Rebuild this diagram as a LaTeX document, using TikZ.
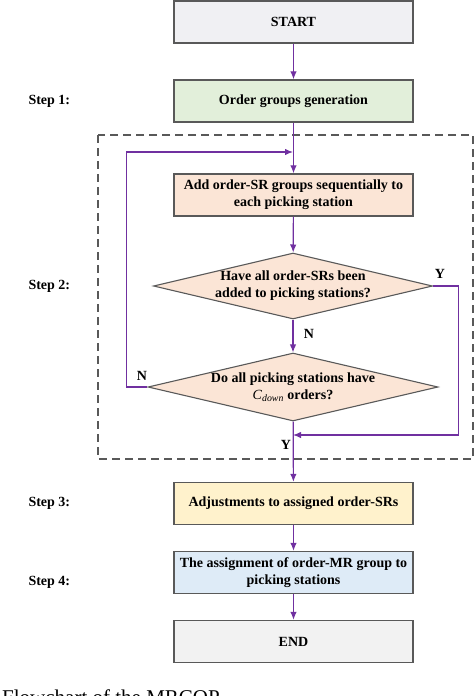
\documentclass[tikz,border=0pt]{standalone}
\usepackage{fontspec}
\setmainfont{Liberation Serif}
\usetikzlibrary{positioning,shapes.geometric,arrows.meta}

\definecolor{edgegray}{RGB}{89,89,89}
\definecolor{flowpurple}{RGB}{112,48,160}
\definecolor{startfill}{RGB}{240,240,243}
\definecolor{groupfill}{RGB}{226,239,218}
\definecolor{peachfill}{RGB}{251,229,214}
\definecolor{adjustfill}{RGB}{255,242,204}
\definecolor{assignfill}{RGB}{222,235,247}
\definecolor{endfill}{RGB}{242,242,242}

\tikzset{
	procbox/.style={rectangle, draw=edgegray, line width=1.3pt, minimum width=239pt, minimum height=42pt, align=center, inner sep=2pt, font=\fontsize{14}{17}\selectfont\bfseries},
	decision/.style={diamond, draw=edgegray, line width=1.1pt, fill=peachfill, inner sep=-4pt, align=center, font=\fontsize{14}{17}\selectfont\bfseries},
	flow/.style={draw=flowpurple, line width=1.2pt, -{Latex[length=8pt,width=6.5pt]}},
	steplabel/.style={anchor=west, font=\fontsize{14}{17}\selectfont\bfseries},
	yn/.style={font=\fontsize{14}{17}\selectfont\bfseries, inner sep=1pt}
}

\begin{document}
\begin{tikzpicture}[x=1pt,y=-1pt]
			\useasboundingbox (0,0) rectangle (474,696);
			% frame round step 2
			\draw[edgegray, line width=1.4pt, dash pattern=on 8pt off 5pt] (98,135) rectangle (473,459);
			% flow boxes
			\node[procbox, fill=startfill] (start) at (293.5,22) {START};
			\node[procbox, fill=groupfill] (groups) at (293.5,101) {Order groups generation};
			\node[procbox, fill=peachfill] (add) at (293.5,195) {Add order-SR groups sequentially to\\each picking station};
			\node[decision, aspect=4.2, minimum width=279pt, minimum height=66pt] (alladded) at (293,286) {Have all order-SRs been\\added to picking stations?};
			\node[decision, aspect=4.26, minimum width=290pt, minimum height=68pt] (allfull) at (293,387) {Do all picking stations have\\\textit{\mdseries C}\textsubscript{\mdseries\itshape down} orders?};
			\node[procbox, fill=adjustfill] (adjust) at (293.5,503.5) {Adjustments to assigned order-SRs};
			\node[procbox, fill=assignfill] (assign) at (293.5,572.5) {The assignment of order-MR group to\\picking stations};
			\node[procbox, fill=endfill] (finish) at (293.5,641.5) {END};
			% step labels
			\node[steplabel] (step1) at (25,101) {Step 1:};
			\node[steplabel] (step2) at (25,286) {Step 2:};
			\node[steplabel] (step3) at (25,503.5) {Step 3:};
			\node[steplabel] (step4) at (25,582) {Step 4:};
			% joins
			\coordinate (loopin) at (293,152);
			\coordinate (yesin) at (293,435);
			% connectors
			\draw[flow] (start) -- (groups);
			\draw[flow] (groups) -- (add);
			\draw[flow] (add) -- (alladded);
			\draw[flow] (alladded) -- (allfull);
			\node[yn] (noone) at (309,334) {N};
			\draw[flow] (allfull.west) -- ++(-21,0) |- (loopin);
			\node[yn] (notwo) at (142,376) {N};
			\draw[flow] (alladded.east) -- ++(25.5,0) |- (yesin);
			\node[yn] (yesone) at (440,274) {Y};
			\draw[flow] (allfull) -- (adjust);
			\node[yn] (yestwo) at (286,445) {Y};
			\draw[flow] (adjust) -- (assign);
			\draw[flow] (assign) -- (finish);
			% caption, cut by the page edge
			\node[anchor=base west, inner sep=0pt, font=\fontsize{21}{24}\selectfont] (caption) at (2,704) {Flowchart of the MRCOP};
	\end{tikzpicture}
\end{document}
